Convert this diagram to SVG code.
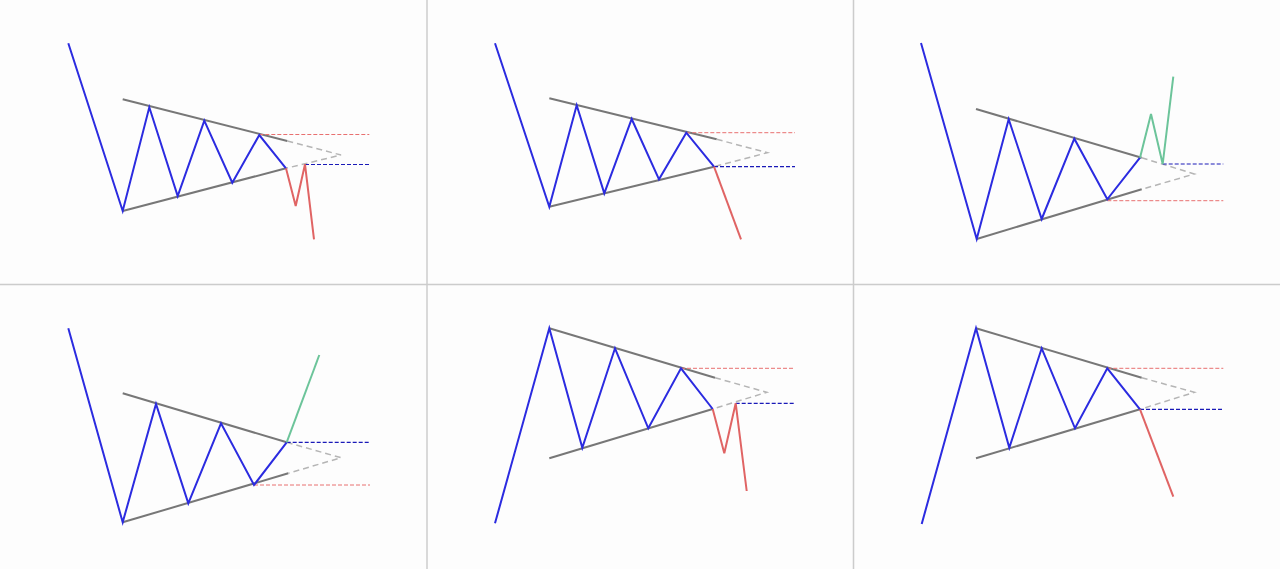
<svg xmlns="http://www.w3.org/2000/svg" width="1280" height="569" viewBox="0 0 1280 569">
<style>
.bg{fill:#fdfdfd}
.grid{stroke:#cccccc;stroke-width:1.5;fill:none}
.wave{stroke:#2b2be0;stroke-width:2;fill:none;stroke-linejoin:miter}
.trend{stroke:#777777;stroke-width:2;fill:none}
.proj{stroke:#b5b5b5;stroke-width:1.5;fill:none;stroke-dasharray:6 4}
.down{stroke:#e06464;stroke-width:2;fill:none}
.up{stroke:#6cc49a;stroke-width:2;fill:none}
.lvlr{stroke:#e87070;stroke-width:1;fill:none;stroke-dasharray:4 2}
.lvlb{stroke:#1a1ab8;stroke-width:1.2;fill:none;stroke-dasharray:4 2}
</style>
<rect class="bg" x="0" y="0" width="1280" height="569"/>
<g id="grid">
<line class="grid" x1="427" y1="0" x2="427" y2="569"/>
<line class="grid" x1="853.5" y1="0" x2="853.5" y2="569"/>
<line class="grid" x1="0" y1="284.5" x2="1280" y2="284.5"/>
</g>
<g id="panel1">
<polyline class="trend" points="122.7,99.3 287.3,141"/>
<polyline class="trend" points="122.7,211 286,168.3"/>
<polyline class="proj" points="287.3,141 341,155 286,168.3"/>
<line class="lvlr" x1="259.3" y1="134.5" x2="369.3" y2="134.5"/>
<line class="lvlb" x1="305" y1="164.5" x2="369.3" y2="164.5"/>
<polyline class="wave" points="68.3,43.3 122.7,211 149.3,107.3 177.7,196 204.3,120.7 232.3,182.7 259.3,135 286,168.3"/>
<polyline class="down" points="286,168.3 295.7,206 305,164.3 314,239.3"/>
</g>
<g id="panel2">
<polyline class="trend" points="549.3,98.3 716.7,139.3"/>
<polyline class="trend" points="549.3,206.7 714,166.7"/>
<polyline class="proj" points="716.7,139.3 767.3,152.7 714,166.7"/>
<line class="lvlr" x1="686.3" y1="132.7" x2="795" y2="132.7"/>
<line class="lvlb" x1="714" y1="166.7" x2="795" y2="166.7"/>
<polyline class="wave" points="495,43.3 549.3,206.7 576.7,105.3 604.3,193.3 631.7,119 659,179.3 686.3,132.7 714,166.7"/>
<polyline class="down" points="714,166.7 741,239.3"/>
</g>
<g id="panel3">
<polyline class="trend" points="976,109 1141.7,157.7"/>
<polyline class="trend" points="976.7,239 1141.7,189.3"/>
<polyline class="proj" points="1141.7,157.7 1194.3,174 1141.7,189.3"/>
<line class="lvlb" x1="1162.7" y1="164" x2="1223.3" y2="164"/>
<line class="lvlr" x1="1107.3" y1="200.7" x2="1223.3" y2="200.7"/>
<polyline class="wave" points="921,43 976.7,239 1008.7,119.3 1041.7,219 1074.3,138.7 1107.3,199.3 1140,157.7"/>
<polyline class="up" points="1140,157.7 1151,114 1162.7,164 1173.3,76.7"/>
</g>
<g id="panel4">
<polyline class="trend" points="122.7,393.3 286.7,442.3"/>
<polyline class="trend" points="122.7,522.3 288.3,473.3"/>
<polyline class="proj" points="286.7,442.3 341,457.7 288.3,473.3"/>
<line class="lvlb" x1="286.7" y1="442.3" x2="370" y2="442.3"/>
<line class="lvlr" x1="254" y1="485" x2="370" y2="485"/>
<polyline class="wave" points="68.3,328.3 122.7,522.3 156,404 188.3,503.3 221,423.3 254,485 286.7,442.3"/>
<polyline class="up" points="286.7,442.3 319.3,355"/>
</g>
<g id="panel5">
<polyline class="trend" points="549.3,328.3 715,377.7"/>
<polyline class="trend" points="549.3,458.3 712.7,409"/>
<polyline class="proj" points="715,377.7 766.7,392.3 712.7,409"/>
<line class="lvlr" x1="681" y1="368.3" x2="795" y2="368.3"/>
<line class="lvlb" x1="735.7" y1="403.3" x2="795" y2="403.3"/>
<polyline class="wave" points="495,523.3 549.3,328.3 582.3,447.7 615,348.3 648.3,428.3 681,368.3 712.7,409"/>
<polyline class="down" points="712.7,409 724.3,453.3 735.7,403.3 746.7,491"/>
</g>
<g id="panel6">
<polyline class="trend" points="976,328.3 1141.7,377.7"/>
<polyline class="trend" points="976,458.3 1140,409.3"/>
<polyline class="proj" points="1141.7,377.7 1194.3,392.3 1140,409.3"/>
<line class="lvlr" x1="1107.3" y1="368.3" x2="1223.3" y2="368.3"/>
<line class="lvlb" x1="1140" y1="409.3" x2="1223.3" y2="409.3"/>
<polyline class="wave" points="921.7,524 976,328.3 1009.3,447.7 1041.7,348.3 1075,428.3 1107.3,368.3 1140,409.3"/>
<polyline class="down" points="1140,409.3 1173.3,496.7"/>
</g>
</svg>
